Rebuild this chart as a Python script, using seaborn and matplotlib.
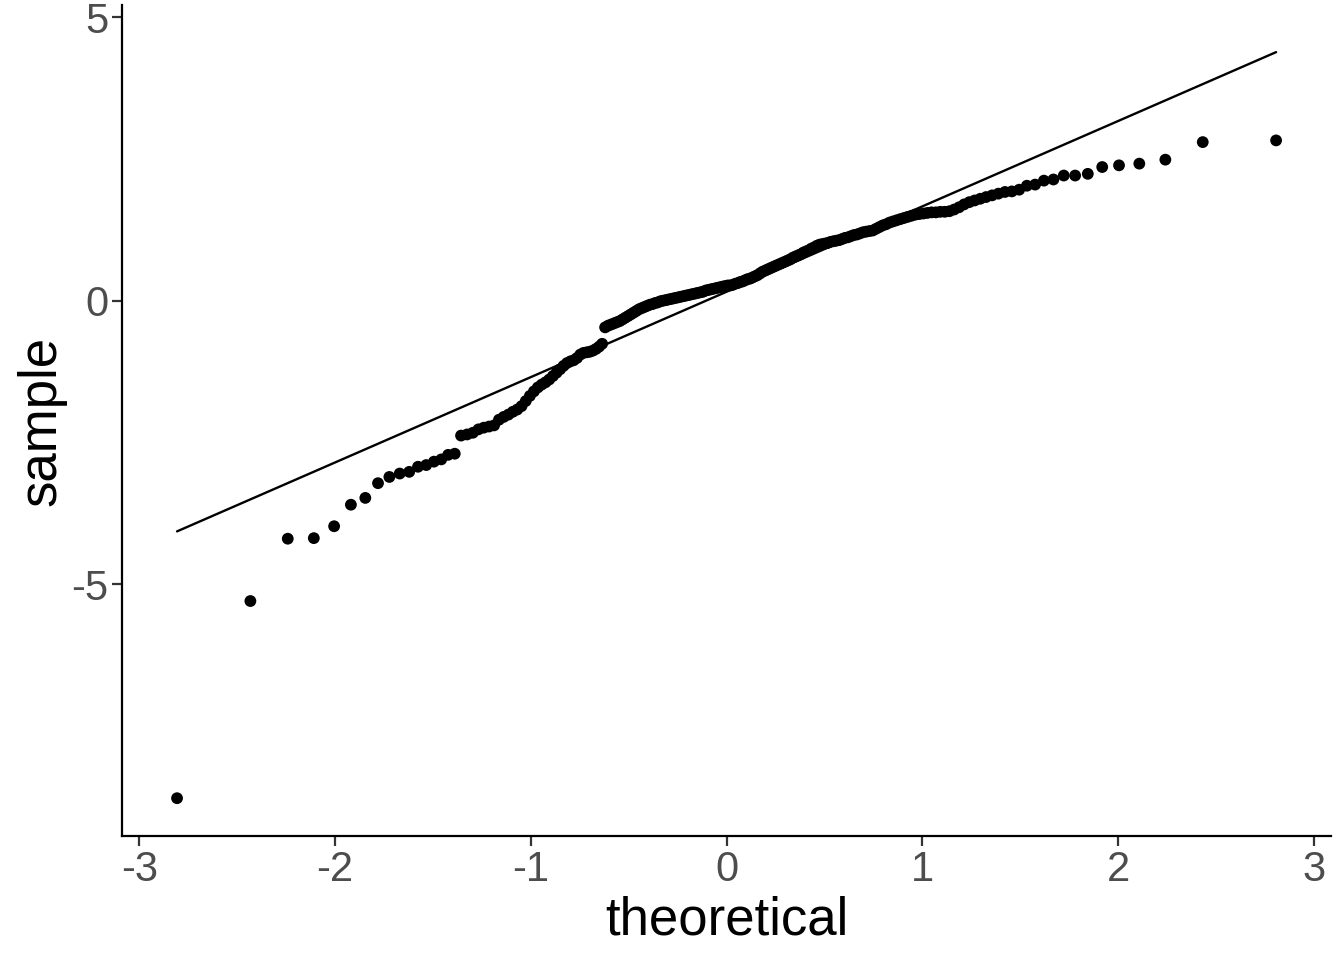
import numpy as np
import pandas as pd
import matplotlib
matplotlib.use("Agg")
import matplotlib.pyplot as plt
import seaborn as sns
from statistics import NormalDist

# sorted sample values (200 obs)
sample = [
    -8.78, -5.30, -4.20, -4.19, -3.98, -3.60, -3.48, -3.22, -3.11, -3.05,
    -3.02, -2.93, -2.90, -2.84, -2.80, -2.72, -2.70, -2.38, -2.36, -2.33,
    -2.27, -2.24, -2.22, -2.20, -2.10, -2.05, -2.01, -1.96, -1.92, -1.86,
    -1.77, -1.68, -1.60, -1.53, -1.48, -1.44, -1.39, -1.33, -1.27, -1.21,
    -1.15, -1.10, -1.07, -1.05, -1.01, -0.95, -0.92, -0.91, -0.90, -0.88,
    -0.85, -0.81, -0.76, -0.47, -0.44, -0.42, -0.40, -0.38, -0.36, -0.33,
    -0.30, -0.27, -0.24, -0.21, -0.18, -0.15, -0.13, -0.11, -0.09, -0.07,
    -0.06, -0.04, -0.03, -0.01, 0.00, 0.01, 0.02, 0.03, 0.04, 0.05,
    0.06, 0.07, 0.08, 0.09, 0.10, 0.11, 0.12, 0.13, 0.14, 0.15,
    0.16, 0.18, 0.19, 0.20, 0.21, 0.22, 0.23, 0.24, 0.25, 0.26,
    0.27, 0.27, 0.28, 0.30, 0.31, 0.33, 0.34, 0.36, 0.38, 0.39,
    0.41, 0.43, 0.45, 0.48, 0.51, 0.53, 0.55, 0.57, 0.59, 0.61,
    0.63, 0.65, 0.67, 0.69, 0.71, 0.73, 0.76, 0.78, 0.80, 0.82,
    0.85, 0.87, 0.89, 0.92, 0.94, 0.97, 0.99, 1.00, 1.01, 1.02,
    1.04, 1.05, 1.06, 1.07, 1.09, 1.11, 1.12, 1.14, 1.16, 1.17,
    1.19, 1.21, 1.22, 1.23, 1.24, 1.27, 1.30, 1.33, 1.35, 1.38,
    1.40, 1.42, 1.44, 1.46, 1.48, 1.50, 1.52, 1.53, 1.54, 1.55,
    1.56, 1.56, 1.57, 1.57, 1.58, 1.61, 1.65, 1.70, 1.74, 1.77,
    1.80, 1.83, 1.86, 1.89, 1.92, 1.93, 1.96, 2.03, 2.05, 2.12,
    2.14, 2.21, 2.21, 2.24, 2.36, 2.39, 2.42, 2.49, 2.80, 2.83,
]
x_ticks = [-3, -2, -1, 0, 1, 2, 3]
y_ticks = [-5, 0, 5]

# theoretical normal quantiles (ppoints, like stat_qq)
n = len(sample)
nd = NormalDist()
theoretical = [nd.inv_cdf((i + 0.5) / n) for i in range(n)]
df = pd.DataFrame({"theoretical": theoretical, "sample": sample})

# qq line through the quartiles
q1, q3 = np.quantile(sample, [0.25, 0.75])
t1, t3 = nd.inv_cdf(0.25), nd.inv_cdf(0.75)
slope = (q3 - q1) / (t3 - t1)
intercept = q1 - slope * t1
line_df = pd.DataFrame({"theoretical": [min(theoretical), max(theoretical)]})
line_df["sample"] = intercept + slope * line_df["theoretical"]

sns.set_style("white")
plt.rcParams["font.family"] = ["Liberation Sans", "DejaVu Sans"]

fig = plt.figure(figsize=(13.44, 9.6), dpi=100)
ax = fig.add_axes([0.0908, 0.129, 0.9904 - 0.0908, 0.9948 - 0.129])

sns.lineplot(data=line_df, x="theoretical", y="sample", color="black",
             linewidth=1.7, ax=ax)
sns.scatterplot(data=df, x="theoretical", y="sample", color="black",
                s=72, edgecolor="none", ax=ax, zorder=3)

ax.set_xlim(-3.088, 3.088)
ax.set_ylim(-9.45, 5.22)
ax.set_xticks(x_ticks)
ax.set_yticks(y_ticks)
ax.set_xticklabels([str(t) for t in x_ticks])
ax.set_yticklabels([str(t) for t in y_ticks])

for side in ["top", "right"]:
    ax.spines[side].set_visible(False)
for side in ["left", "bottom"]:
    ax.spines[side].set_color("black")
    ax.spines[side].set_linewidth(1.6)

ax.tick_params(axis="both", direction="out", length=7, width=1.6,
               color="#333333", labelcolor="#4D4D4D", labelsize=30, pad=3,
               left=True, bottom=True)
ax.set_xlabel("theoretical", fontsize=38, color="black", labelpad=4)
ax.set_ylabel("sample", fontsize=38, color="black", labelpad=3)

fig.savefig("out.png", dpi=100)
